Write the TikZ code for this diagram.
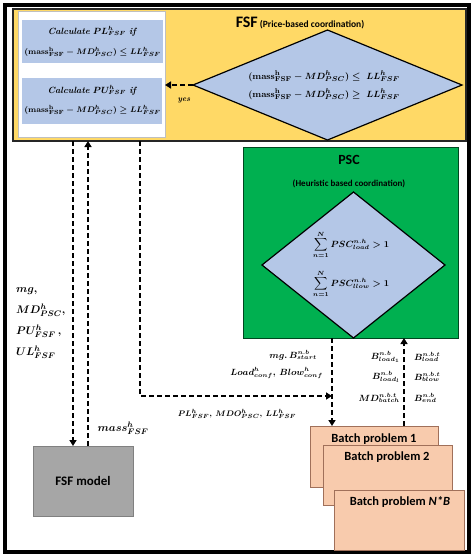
\documentclass[tikz,border=0pt]{standalone}
\usepackage{amsmath}
\usepackage{fontspec}
\newfontfamily\carl{Carlito}
\usetikzlibrary{arrows.meta,shapes.geometric}
\definecolor{fsfyellow}{HTML}{FFD966}
\definecolor{lblue}{HTML}{B4C7E7}
\definecolor{pscgreen}{HTML}{00B050}
\definecolor{batchfill}{HTML}{F8CBAD}
\definecolor{batchdraw}{HTML}{A0705A}
\definecolor{modelgray}{HTML}{A6A6A6}
\begin{document}
\begin{tikzpicture}[x=1pt,y=-1pt,
  dl/.style={line width=2pt, dash pattern=on 5pt off 3pt},
  dla/.style={dl, -{Triangle[length=6pt,width=7pt]}},
  box/.style={inner sep=0pt, outer sep=0pt},
  ml/.style={font=\fontsize{9}{11}\selectfont\boldmath, inner sep=1pt},
  mlp/.style={font=\fontsize{8.2}{10}\selectfont\boldmath, inner sep=1pt},
  mls/.style={font=\fontsize{8}{10}\selectfont\boldmath, inner sep=1pt},
  mlb/.style={font=\fontsize{11}{21}\selectfont\boldmath, inner sep=1pt},
  bluebox/.style={box, fill=lblue},
  batch/.style={box, draw=batchdraw, line width=0.8pt, fill=batchfill, minimum width=#1, minimum height=60pt},
  btext/.style={font=\carl\bfseries\fontsize{12.5}{14}\selectfont, inner sep=1pt}
]
\useasboundingbox (0,0) rectangle (474,560);
% outer frame
\node[box, draw, line width=4pt, minimum width=464pt, minimum height=547pt] (frame) at (237,278.5) {};
% FSF box
\node[box, draw=black!85, line width=1.4pt, fill=fsfyellow, minimum width=453pt, minimum height=132pt] (fsf) at (239.5,75) {};
\node[box, draw=black!25, line width=0.5pt, fill=white, minimum width=147pt, minimum height=126pt] (panel) at (91.5,74) {};
\node[bluebox, minimum width=141pt, minimum height=43pt] (pl) at (92.5,41.5) {};
\node[bluebox, minimum width=140pt, minimum height=46pt] (pu) at (92,101) {};
\node[ml] (pla) at (92.5,31) {\textbf{\textit{Calculate}} $PL^h_{FSF}$ \textbf{\textit{if}}};
\node[mlp] (plb) at (92.5,52) {$(\mathbf{mass}^{\mathbf{h}}_{\mathbf{FSF}} - MD^h_{PSC}) \le LL^h_{FSF}$};
\node[ml] (pua) at (92.5,90) {\textbf{\textit{Calculate}} $PU^h_{FSF}$ \textbf{\textit{if}}};
\node[mlp] (pub) at (92.5,110) {$(\mathbf{mass}^{\mathbf{h}}_{\mathbf{FSF}} - MD^h_{PSC}) \ge LL^h_{FSF}$};
\node[font=\carl\bfseries\fontsize{9.5}{11}\selectfont, inner sep=0pt] (fsft) at (300,23) {{\fontsize{16}{16}\selectfont FSF} (Price-based coordination)};
\node[diamond, box, draw, line width=1.2pt, fill=lblue, minimum width=269pt, minimum height=110pt] (fsfd) at (327.5,85) {};
\node[ml, font=\fontsize{9.3}{18}\selectfont\boldmath, align=center] (fsfdt) at (324,85) {$(\mathbf{mass}^{\mathbf{h}}_{\mathbf{FSF}} - MD^h_{PSC}) \le\; LL^h_{FSF}$\\ $(\mathbf{mass}^{\mathbf{h}}_{\mathbf{FSF}} - MD^h_{PSC}) \ge\; LL^h_{FSF}$};
\draw[dla] (fsfd.west) -- (fsfd.west -| panel.east);
\node[mls, font=\fontsize{8}{10}\selectfont\bfseries\itshape] (yes) at (184,100) {yes};
% PSC box
\node[box, draw=black!60!pscgreen, line width=0.8pt, fill=pscgreen, minimum width=215pt, minimum height=191pt] (psc) at (350.5,242.5) {};
\node[font=\carl\bfseries\fontsize{14}{16}\selectfont, inner sep=0pt] (psct) at (349,160) {PSC};
\node[font=\carl\bfseries\fontsize{9}{11}\selectfont, inner sep=0pt] (pscs) at (349,184) {(Heuristic based coordination)};
\node[diamond, box, draw, line width=1.2pt, fill=lblue, minimum width=183pt, minimum height=146pt] (pscd) at (353.5,265) {};
\node[ml] (sum1) at (351,245) {$\displaystyle\sum_{n=1}^{N} PSC^{n.h}_{load} > 1$};
\node[ml] (sum2) at (351,284) {$\displaystyle\sum_{n=1}^{N} PSC^{n.h}_{llow} > 1$};
% FSF model
\node[box, draw=black!50, line width=0.8pt, fill=modelgray, minimum width=100pt, minimum height=70pt, font=\carl\bfseries\fontsize{13}{15}\selectfont] (model) at (83,481) {FSF model};
% connectors
\coordinate (c1) at (140,396);
\coordinate (c2) at (332,396);
\draw[dla] ([xshift=-10pt]model.north |- fsf.south) -- ([xshift=-10pt]model.north);
\draw[dla] ([xshift=5pt]model.north) -- ([xshift=5pt]model.north |- fsf.south);
\draw[dla] (c1 |- fsf.south) -- (c1) -- (c2);
% batch boxes
\node[batch=128pt, minimum height=61pt] (b1) at (374,456.5) {};
\node[btext] (b1t) at (374,439) {Batch problem 1};
\node[batch=129pt] (b2) at (387.5,475) {};
\node[btext] (b2t) at (387,457) {Batch problem 2};
\node[batch=130pt] (b3) at (399,520) {};
\node[btext] (b3t) at (400,502) {Batch problem \textit{N*B}};
\draw[dla] (c2 |- psc.south) -- (c2 |- b1.north);
\draw[dla] ([xshift=30pt]b1.north) -- ([xshift=30pt]b1.north |- psc.south);
% labels
\node[mlb, align=left, anchor=west] (leftlab) at (15,323) {$mg,$\\ $MD^h_{PSC},$\\ $PU^h_{FSF}\,,$\\ $UL^h_{FSF}$};
\node[mlb] (masslab) at (123,428) {$mass^h_{FSF}$};
\node[ml, anchor=east] (mglab) at (318,355) {$mg.\,B^{n.b}_{start}$};
\node[ml, anchor=east] (loadlab) at (324,373) {$Load^h_{conf},\,Blow^h_{conf}$};
\node[mls] (pllab) at (237,414) {$PL^h_{FSF},\,MDO^h_{PSC},\,LL^h_{FSF}$};
\node[ml, anchor=east] (bl1) at (401,357) {$B^{n.b}_{load_1}$};
\node[ml, anchor=east] (bl2) at (401,377) {$B^{n.b}_{load_l}$};
\node[ml, anchor=east] (bl3) at (401,398) {$MD^{n.b.t}_{batch}$};
\node[ml, anchor=west] (br1) at (413,357) {$B^{n.b.t}_{load}$};
\node[ml, anchor=west] (br2) at (413,377) {$B^{n.b.t}_{blow}$};
\node[ml, anchor=west] (br3) at (413,398) {$B^{n.b}_{end}$};
\end{tikzpicture}
\end{document}
